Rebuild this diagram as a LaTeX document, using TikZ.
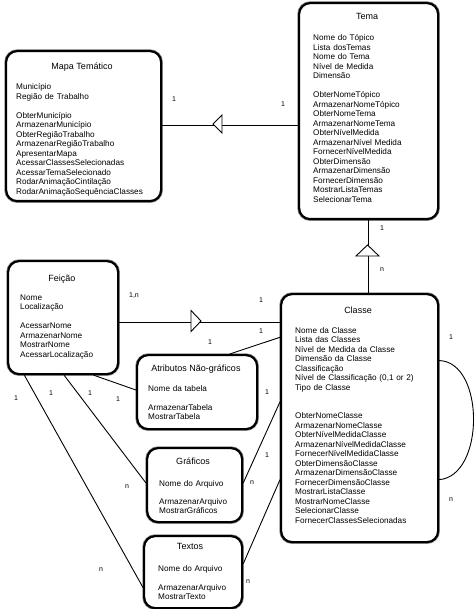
\documentclass[tikz,border=0pt]{standalone}
\usepackage{fontspec}
\setmainfont{Liberation Sans}
\usetikzlibrary{calc}
\begin{document}
\begin{tikzpicture}[x=1pt,y=-1pt,
 box/.style={draw=black, line width=2.2pt, rounded corners=11pt, fill=white, inner sep=0pt, anchor=north west,
   preaction={draw=black!45, line width=3.6pt}},
 ttl/.style={anchor=base, inner sep=0pt, font=\fontsize{9}{10}\selectfont},
 body/.style={anchor=base west, inner sep=0pt, align=left, text width=150pt, font=\fontsize{8.2}{9.5}\selectfont},
 lab/.style={inner sep=0pt, font=\fontsize{7}{8}\selectfont},
 conn/.style={draw=black, line width=0.9pt},
 tri/.style={draw=black, line width=0.9pt, fill=white, line join=miter}]
\useasboundingbox (0,0) rectangle (474,609);

% boxes
\node[box, minimum width=155pt, minimum height=150pt] (mapa) at (5,50) {};
\node[box, minimum width=139pt, minimum height=216pt] (tema) at (298,2) {};
\node[box, minimum width=110pt, minimum height=113pt] (feicao) at (7,260) {};
\node[box, minimum width=157pt, minimum height=248pt] (classe) at (280,293) {};
\node[box, minimum width=120pt, minimum height=74pt] (atrib) at (136,354) {};
\node[box, minimum width=95pt, minimum height=74pt] (graf) at (146,447) {};
\node[box, minimum width=98pt, minimum height=72pt] (textos) at (143,535) {};

% titles
\node[ttl] (tmapa) at (82,70) {Mapa Temático};
\node[ttl] (ttema) at (367,20) {Tema};
\node[ttl] (tfeicao) at (62,281) {Feição};
\node[ttl] (tclasse) at (358,313) {Classe};
\node[ttl] (tatrib) at (196,371) {Atributos Não-gráficos};
\node[ttl] (tgraf) at (193,464) {Gráficos};
\node[ttl] (ttextos) at (190,549) {Textos};

% bodies
\node[body] (bmapa) at (16,90) {Município\\Região de Trabalho\\[9.5pt]
ObterMunicípio\\ArmazenarMunicípio\\ObterRegiãoTrabalho\\ArmazenarRegiãoTrabalho\\ApresentarMapa\\AcessarClassesSelecionadas\\AcessarTemaSelecionado\\RodarAnimaçãoCintilação\\RodarAnimaçãoSequênciaClasses};
\node[body] (btema) at (313,41) {Nome do Tópico\\Lista dosTemas\\Nome do Tema\\Nível de Medida\\Dimensão\\[9.5pt]
ObterNomeTópico\\ArmazenarNomeTópico\\ObterNomeTema\\ArmazenarNomeTema\\ObterNívelMedida\\ArmazenarNível Medida\\FornecerNívelMedida\\ObterDimensão\\ArmazenarDimensão\\FornecerDimensão\\MostrarListaTemas\\SelecionarTema};
\node[body] (bfeicao) at (20,300) {Nome\\Localização\\[9.5pt]
AcessarNome\\ArmazenarNome\\MostrarNome\\AcessarLocalização};
\node[body] (bclasse) at (295,333) {Nome da Classe\\Lista das Classes\\Nível de Medida da Classe\\Dimensão da Classe\\Classificação\\Nível de Classificação (0,1 or 2)\\Tipo de Classe\\[19pt]
ObterNomeClasse\\ArmazenarNomeClasse\\ObterNívelMedidaClasse\\ArmazenarNívelMedidaClasse\\FornecerNívelMedidaClasse\\ObterDimensãoClasse\\ArmazenarDimensãoClasse\\FornecerDimensãoClasse\\MostrarListaClasse\\MostrarNomeClasse\\SelecionarClasse\\FornecerClassesSelecionadas};
\node[body] (batrib) at (148,391) {Nome da tabela\\[9.5pt]ArmazenarTabela\\MostrarTabela};
\node[body] (bgraf) at (159,486) {Nome do Arquivo\\[8.5pt]ArmazenarArquivo\\MostrarGráficos};
\node[body] (btextos) at (158,571) {Nome do Arquivo\\[9.5pt]ArmazenarArquivo\\MostrarTexto};

% connectors
\coordinate (p1) at ($(tema.north west)!0.565!(tema.south west)$);
\draw[conn] (p1) -- (p1 -| mapa.east);
\draw[tri] (222,115) -- (213,124) -- (222,133) -- cycle;

\draw[conn] (tema.south) -- (tema.south |- classe.north);
\draw[tri] (356,256) -- (367.5,245) -- (379,256) -- cycle;

\coordinate (p3) at ($(feicao.north east)!0.54!(feicao.south east)$);
\draw[conn] (p3) -- (p3 -| classe.west);
\draw[tri] (191,310.5) -- (201,321) -- (191,331.5) -- cycle;

\draw[conn] ($(atrib.north west)!0.767!(atrib.north east)$) -- ($(classe.north west)!0.177!(classe.south west)$);
\draw[conn] ($(feicao.south west)!0.773!(feicao.south east)$) -- ($(atrib.north west)!0.473!(atrib.south west)$);
\draw[conn] ($(feicao.south west)!0.509!(feicao.south east)$) -- ($(graf.north west)!0.473!(graf.south west)$);
\draw[conn] ($(feicao.south west)!0.155!(feicao.south east)$) -- ($(textos.north west)!0.708!(textos.south west)$);
\draw[conn] ($(graf.north east)!0.473!(graf.south east)$) -- ($(classe.north west)!0.435!(classe.south west)$);
\draw[conn] ($(textos.north east)!0.389!(textos.south east)$) -- ($(classe.north west)!0.746!(classe.south west)$);
\draw[conn] ($(classe.north east)!0.27!(classe.south east)$) .. controls (485,362) and (485,476) .. ($(classe.north east)!0.746!(classe.south east)$);

% labels
\node[lab] (l1) at (174,99) {1};
\node[lab] (l2) at (283,104) {1};
\node[lab] (l3) at (382,228) {1};
\node[lab] (l4) at (382,270) {n};
\node[lab] (l5) at (134,296) {1,n};
\node[lab] (l6) at (261,300) {1};
\node[lab] (l7) at (261,331) {1};
\node[lab] (l8) at (210,342) {1};
\node[lab] (l9) at (267,392) {1};
\node[lab] (l10) at (267,455) {1};
\node[lab] (l11) at (252,483) {n};
\node[lab] (l12) at (248,582) {n};
\node[lab] (l13) at (16,398) {1};
\node[lab] (l14) at (51,393) {1};
\node[lab] (l15) at (90,393) {1};
\node[lab] (l16) at (118,399) {1};
\node[lab] (l17) at (127,487) {n};
\node[lab] (l18) at (101,570) {n};
\node[lab] (l19) at (451,337) {1};
\node[lab] (l20) at (451,500) {n};
\end{tikzpicture}
\end{document}
